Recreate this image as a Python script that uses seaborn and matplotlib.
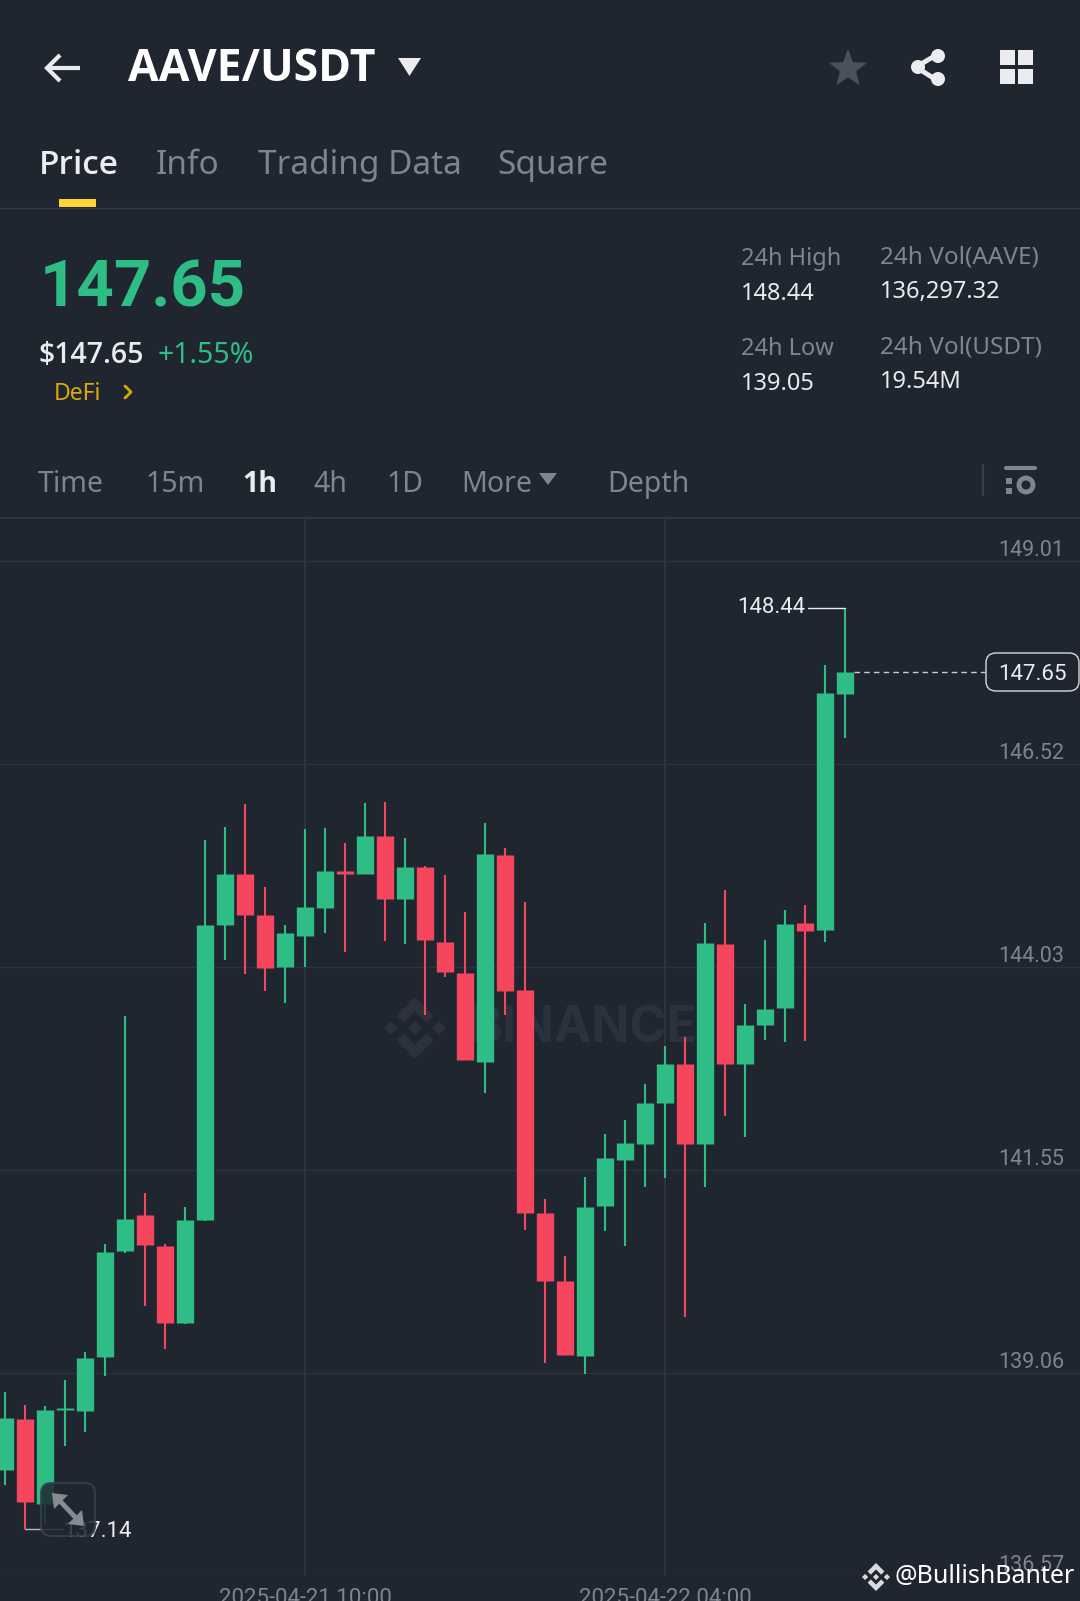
import numpy as np
import pandas as pd
import matplotlib
matplotlib.use("Agg")
import matplotlib.pyplot as plt
from matplotlib.patches import Polygon, Circle, FancyBboxPatch, Rectangle
import seaborn as sns

# candle values, hourly from 2025-04-20 19:00
opens = [137.87, 138.50, 137.45, 138.60, 138.59, 139.26, 140.55, 141.00, 140.62, 139.67, 140.93,
         144.55, 145.18, 144.67, 144.03, 144.42, 144.76, 145.21, 145.18, 145.64, 144.87, 145.26,
         144.34, 143.96, 142.87, 145.41, 143.75, 141.02, 140.19, 139.27, 141.10, 141.67, 141.87,
         142.37, 142.85, 141.86, 144.32, 142.85, 143.32, 143.53, 144.57, 144.49, 147.38]
closes = [138.51, 137.48, 138.60, 138.63, 139.24, 140.54, 140.95, 140.63, 139.67, 140.93, 144.55,
          145.17, 144.67, 144.02, 144.45, 144.77, 145.21, 145.18, 145.64, 144.87, 145.26, 144.36,
          143.97, 142.89, 145.42, 143.74, 141.02, 140.18, 139.28, 141.09, 141.69, 141.88, 142.37,
          142.85, 141.86, 144.33, 142.84, 143.32, 143.52, 144.56, 144.47, 147.39, 147.65]
highs = [138.83, 138.66, 138.65, 138.97, 139.32, 140.64, 143.43, 141.26, 140.64, 141.09, 145.59,
         145.75, 146.03, 145.01, 144.55, 145.72, 145.74, 145.56, 146.04, 146.06, 145.61, 145.27,
         145.16, 144.71, 145.80, 145.49, 144.83, 141.19, 140.49, 141.46, 141.99, 142.16, 142.60,
         143.06, 143.18, 144.57, 144.98, 143.58, 144.36, 144.73, 144.80, 147.74, 148.44]
lows = [137.69, 137.14, 137.21, 138.16, 138.33, 139.02, 140.53, 139.88, 139.35, 139.66, 140.92,
        144.12, 143.95, 143.74, 143.59, 144.03, 144.45, 144.22, 145.18, 144.35, 144.31, 143.44,
        143.91, 142.89, 142.49, 143.45, 140.81, 139.18, 139.28, 139.05, 140.80, 140.61, 141.34,
        141.45, 139.74, 141.34, 142.21, 141.95, 143.14, 143.11, 143.13, 144.34, 146.84]
price_ticks = [149.01, 146.52, 144.03, 141.55, 139.06, 136.57]
price_labels = ["149.01", "146.52", "144.03", "141.55", "139.06", "136.57"]
time_ticks = ["2025-04-21 10:00", "2025-04-22 04:00"]

BG = "#1f2630"
GRID = "#2c333e"
GREEN = "#2ebd85"
RED = "#f6465d"
GREY = "#7d8592"
WHITE = "#eaecef"

sns.set_theme(style="dark")
plt.rcParams["font.family"] = ["Roboto", "DejaVu Sans"]
NOTO = ["Noto Sans", "DejaVu Sans"]
OPEN = ["Open Sans", "DejaVu Sans"]

W, H = 1080, 1601
fig = plt.figure(figsize=(W / 100, H / 100), dpi=100, facecolor=BG)

# chart area runs from y=519 to y=1576 in picture pixels
ax = fig.add_axes([0, (H - 1576) / H, 1, (1576 - 519) / H], facecolor=BG)
ui = fig.add_axes([0, 0, 1, 1], facecolor="none", zorder=5)
ui.set_xlim(0, W)
ui.set_ylim(H, 0)
ui.axis("off")

times = pd.date_range("2025-04-20 19:00", periods=len(opens), freq="h")
candles = pd.DataFrame({"time": times, "open": opens, "close": closes, "high": highs, "low": lows})
candles["dir"] = np.where(candles["close"] >= candles["open"], "up", "down")
candles["candle"] = np.arange(len(candles))
wicks = candles.melt(id_vars=["time", "candle", "dir"], value_vars=["high", "low"], value_name="price")
bodies = candles.melt(id_vars=["time", "candle", "dir"], value_vars=["open", "close"], value_name="price")
colors = {"up": GREEN, "down": RED}

sns.lineplot(data=wicks, x="time", y="price", hue="dir", units="candle", estimator=None, sort=False,
             palette=colors, linewidth=1.5, legend=False, ax=ax, zorder=3, solid_capstyle="butt")
sns.lineplot(data=bodies, x="time", y="price", hue="dir", units="candle", estimator=None, sort=False,
             palette=colors, linewidth=12.5, legend=False, ax=ax, zorder=4, solid_capstyle="butt")

hour = pd.Timedelta(hours=1)
ax.set_xlim(times[0] - 0.25 * hour, times[0] + 53.75 * hour)
ax.set_ylim(136.57, 149.01 + (561 - 519) / 81.56)
ax.set_xticks(pd.to_datetime(time_ticks))
ax.set_xticklabels(time_ticks, fontsize=16, color=GREY)
ax.set_yticks(price_ticks)
ax.set_yticklabels([])
ax.set_xlabel("")
ax.set_ylabel("")
ax.tick_params(axis="both", length=0)
ax.tick_params(axis="x", pad=8.5)
ax.grid(axis="y", color=GRID, linewidth=1)
ax.grid(axis="x", color=GRID, linewidth=1.5)
ax.set_axisbelow(True)
for s in ax.spines.values():
    s.set_visible(False)

for p, lbl in zip(price_ticks, price_labels):
    ax.annotate(lbl, xy=(1, p), xycoords=ax.get_yaxis_transform(), xytext=(-11.5, 3.5),
                textcoords="offset points", ha="right", va="baseline", fontsize=15.5, color=GREY, zorder=6)


def logo(target, cx, cy, s, color, zorder=1):
    chevron = np.array([(0, -1), (0.6, -0.4), (0.37, -0.17), (0, -0.54), (-0.37, -0.17), (-0.6, -0.4)])
    shapes = [chevron, chevron * [1, -1]]
    diamond = np.array([(0, -0.22), (0.22, 0), (0, 0.22), (-0.22, 0)])
    for dx in (-0.78, 0, 0.78):
        shapes.append(diamond + [dx, 0])
    for pts in shapes:
        target.add_patch(Polygon(pts * s + [cx, cy], closed=True, fc=color, ec="none", zorder=zorder,
                                 transform=ui.transData, clip_on=False))


# faint watermark under the candles
logo(ax, 415, 1028, 31, "#2b313d", zorder=1)
ax.text(470, 1029, "BINANCE", transform=ui.transData, fontsize=36, fontweight="bold", color="#2b313d",
        family=["Inter", "DejaVu Sans"], ha="left", va="center", zorder=1)

# high, low and last price marks
last = len(opens) - 1
ax.plot([times[last] - 1.85 * hour, times[last]], [highs[last], highs[last]], color=WHITE, lw=1, zorder=5)
ax.annotate("148.44", xy=(times[last] - 2 * hour, highs[last]), ha="right", va="center",
            fontsize=16, color=WHITE, zorder=6)
ax.plot([times[1], times[1] + 1.9 * hour], [lows[1], lows[1]], color="#b8bcc2", lw=1, zorder=5)
ax.annotate("137.14", xy=(times[1] + 1.9 * hour, lows[1]), xytext=(0, -1.5), textcoords="offset points",
            ha="left", va="center", fontsize=16, color=WHITE, zorder=6)
ax.plot([times[last] + 0.45 * hour, times[last] + 7 * hour], [closes[last], closes[last]], color="#c9cdd2",
        lw=1, dashes=(4, 3), zorder=5)
ui.add_patch(FancyBboxPatch((986, 653), 93, 38, boxstyle="round,pad=0,rounding_size=10", fc=BG, ec="#d8dadd", lw=1))
ui.text(1032, 674, "147.65", fontsize=16, color=WHITE, ha="center", va="center")

# expand button sits over the candles
ui.add_patch(FancyBboxPatch((41, 1483), 54, 53, boxstyle="round,pad=0,rounding_size=10", fc=BG, ec="#39404b",
                            lw=1.5, alpha=0.85))
ui.plot([60, 76], [1501, 1518], color="#868b93", lw=3.5, solid_capstyle="butt")
for pts in ([(52, 1493), (68, 1495), (54, 1509)], [(84, 1526), (68, 1524), (82, 1510)]):
    ui.add_patch(Polygon(pts, closed=True, fc="#868b93", ec="none"))

# bottom right credit
logo(ui, 876, 1577, 14, "#d9dbde", zorder=6)
ui.text(894, 1576, "@BullishBanter", fontsize=18, color="white", family=NOTO,
        ha="left", va="center", zorder=6)


def label(x, y, s, size, color=GREY, weight="normal", fam=NOTO):
    ui.text(x, y + 2, s, fontsize=size, color=color, fontweight=weight, ha="left", va="center", family=fam)


# header
ui.plot([47, 80], [68, 68], color=WHITE, lw=3, solid_capstyle="butt")
ui.plot([60, 47, 60], [55, 68, 81], color=WHITE, lw=3, solid_joinstyle="miter", solid_capstyle="butt")
label(128, 67, "AAVE/USDT", 32, "white", "bold", OPEN)
ui.add_patch(Polygon([(398, 58), (421, 58), (409.5, 76)], closed=True, fc=WHITE, ec="none"))
ang = np.deg2rad(np.arange(10) * 36 - 90)
rad = np.where(np.arange(10) % 2 == 0, 20, 8.5)
ui.add_patch(Polygon(np.c_[848 + rad * np.cos(ang), 69 + rad * np.sin(ang)], closed=True, fc="#4b505c", ec="none"))
ui.plot([938, 916, 938], [54, 67, 81], color=WHITE, lw=3.5)
for cx, cy in ((938, 56), (918, 67), (938, 79)):
    ui.add_patch(Circle((cx, cy), 7, fc=WHITE, ec="none"))
for x0 in (1000, 1018):
    for y0 in (50, 69):
        ui.add_patch(Rectangle((x0, y0), 15, 15, fc=WHITE, ec="none"))

label(39, 163, "Price", 24, WHITE, "semibold", OPEN)
label(156, 163, "Info", 24, GREY)
label(258, 163, "Trading Data", 24, GREY)
label(497, 163, "Square", 24, GREY)
ui.add_patch(Rectangle((59, 199), 37, 8, fc="#fcd535", ec="none"))
ui.plot([0, W], [207.5, 207.5], color="#343a45", lw=1)

# price block
label(40, 287, "147.65", 47, GREEN, "bold", ["Roboto", "DejaVu Sans"])
label(39, 353, "$147.65", 20.5, WHITE, "semibold", OPEN)
label(158, 353, "+1.55%", 20.5, GREEN)
label(54, 392, "DeFi", 16.5, "#dba80f")
ui.plot([125, 131, 125], [386, 392, 398], color="#dba80f", lw=2)

label(741, 257, "24h High", 17, GREY)
label(741, 292, "148.44", 17, WHITE)
label(741, 347, "24h Low", 17, GREY)
label(741, 382, "139.05", 17, WHITE)
label(880, 255, "24h Vol(AAVE)", 17.5, GREY)
label(880, 290, "136,297.32", 17, WHITE)
label(880, 345, "24h Vol(USDT)", 17.5, GREY)
label(880, 380, "19.54M", 17, WHITE)

# interval tabs
label(38, 482, "Time", 20.5)
label(145, 482, "15m", 20.5)
label(242, 482, "1h", 20.5, WHITE, "bold", OPEN)
label(313, 482, "4h", 20.5)
label(386, 482, "1D", 20.5)
label(461, 482, "More", 20.5)
ui.add_patch(Polygon([(539, 473), (557, 473), (548, 485)], closed=True, fc=GREY, ec="none"))
label(607, 482, "Depth", 20.5)
ui.plot([983, 983], [465, 495], color="#3a414c", lw=1.5)
ui.plot([1006, 1035], [468, 468], color=GREY, lw=3)
for yy in (481, 491):
    ui.add_patch(Rectangle((1006, yy - 3), 6, 6, fc=GREY, ec="none"))
ui.add_patch(Circle((1026, 485), 7, fc="none", ec=GREY, lw=3.5))
ui.plot([0, W], [517.5, 517.5], color="#2f3540", lw=1.5)

fig.savefig("out.png", dpi=100, facecolor=BG)
